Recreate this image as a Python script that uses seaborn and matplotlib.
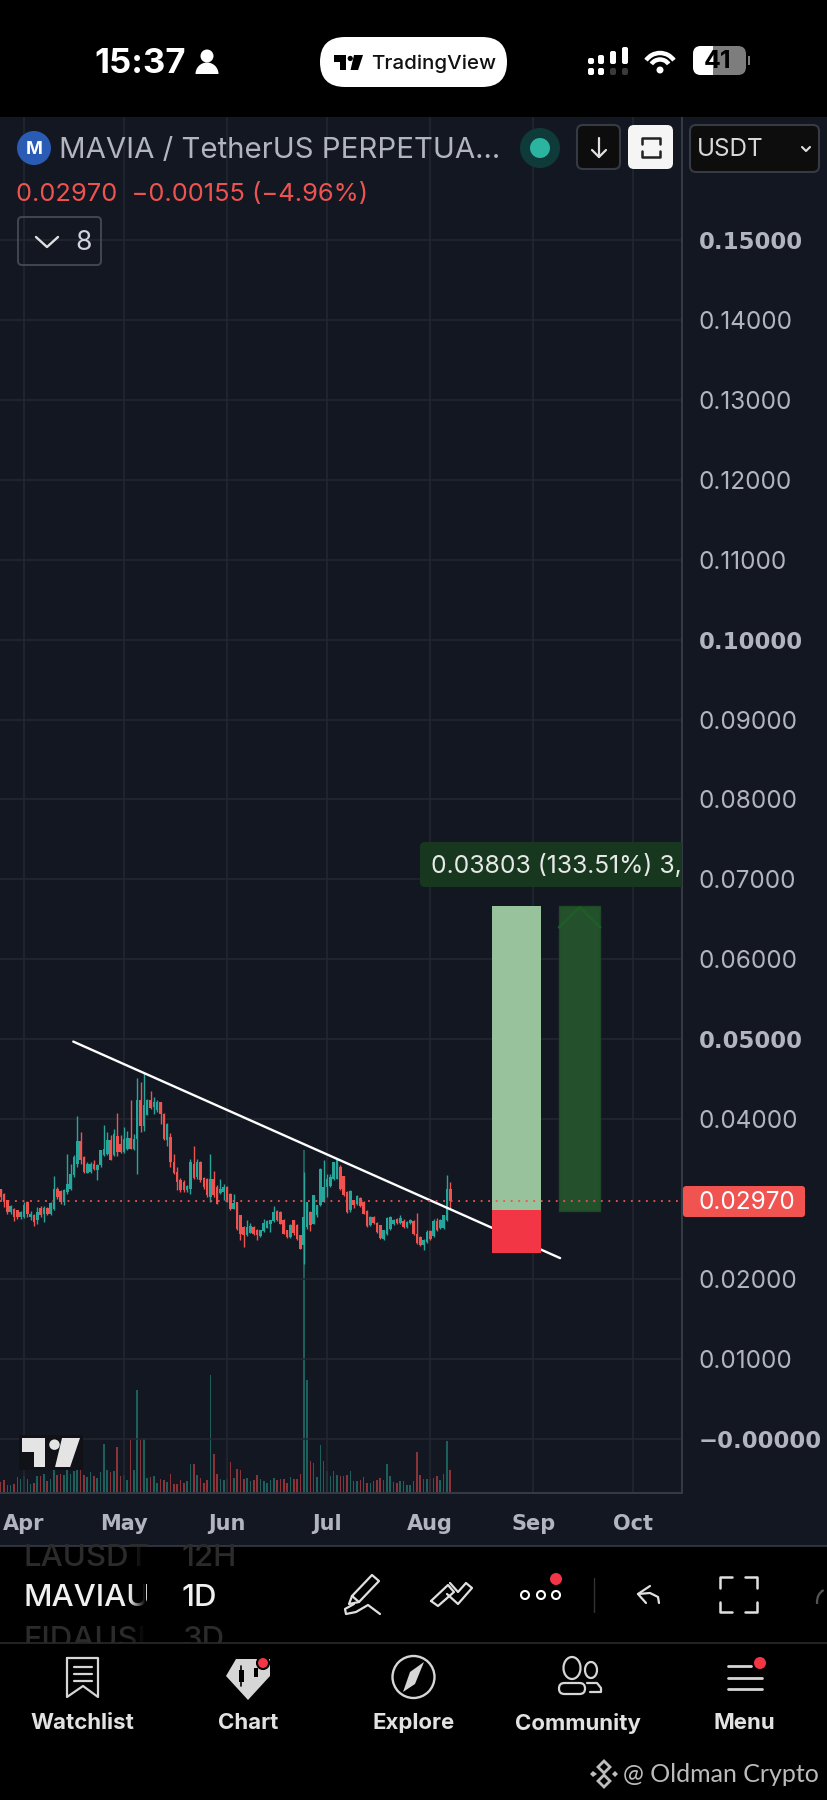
import numpy as np
import pandas as pd
import seaborn as sns
import matplotlib.pyplot as plt
from matplotlib.patches import FancyBboxPatch, Rectangle, Circle, Polygon, Arc, Wedge

# Candle values, thousandths of a USDT, one candle per day (day 0 = 1 Apr)
days = list(range(-7, 129))
candle_open = [31.3,30.65,29.85,28.4,28.8,28.6,27.75,27.75,29.6,27.75,
    27.95,27.35,28.9,28.15,28.9,28.15,28.8,31.3,31.0,29.6,
    30.9,31.3,32.95,34.4,37.25,35.25,33.25,33.4,34.4,33.65,
    34.2,35.45,35.65,37.35,35.45,37.85,36.9,35.9,36.3,37.65,
    36.3,37.55,42.4,39.1,40.45,42.4,41.5,41.1,42.1,40.65,
    37.35,37.75,34.6,33.4,32.35,32.1,31.1,31.3,34.4,32.75,
    34.6,32.6,32.55,30.25,32.55,31.5,30.75,30.9,31.5,30.65,
    28.8,29.6,28.05,26.5,25.45,25.8,26.5,26.15,25.35,26.0,
    26.4,26.85,27.25,28.5,28.4,27.35,26.1,25.25,27.35,26.7,
    25.45,24.2,26.5,28.4,26.9,27.95,29.2,29.6,31.5,31.6,
    32.55,32.55,34.0,32.85,30.9,28.6,29.85,29.35,30.15,29.6,
    28.5,26.7,27.75,27.0,26.7,25.05,25.6,26.3,26.85,27.55,
    27.0,27.25,26.5,27.0,27.25,25.6,25.25,24.2,24.6,26.0,
    25.35,27.25,26.4,26.4,27.4,31.25]
candle_close = [30.25,29.6,28.4,29.1,27.75,27.75,28.4,29.2,28.15,28.1,
    27.1,28.4,27.95,28.9,28.15,29.5,31.3,30.25,29.6,31.1,
    31.9,33.15,35.25,37.25,34.85,33.4,34.4,34.4,33.8,34.2,
    36.15,36.3,37.35,34.85,38.15,35.9,35.9,37.55,37.65,36.3,
    37.55,42.4,39.1,41.7,42.4,41.4,42.1,42.1,40.6,37.55,
    39.4,34.6,33.25,32.1,31.1,31.1,31.6,34.6,32.65,34.6,
    32.35,31.5,30.45,32.55,30.45,29.4,31.3,31.5,29.85,28.8,
    29.5,26.3,25.65,25.45,26.5,26.6,25.65,25.45,26.1,27.0,
    27.25,27.35,28.4,27.35,26.9,25.65,25.25,26.7,25.75,25.05,
    23.8,27.75,29.6,26.7,30.45,29.2,33.8,31.5,32.55,32.75,
    34.6,34.85,31.3,30.45,28.4,30.95,29.2,30.35,29.1,28.15,
    26.6,27.75,27.0,25.9,25.1,26.1,27.65,27.75,27.4,27.0,
    27.65,26.5,27.1,27.4,25.6,24.5,24.2,24.9,25.9,25.05,
    27.25,26.1,27.4,27.95,31.3,29.7]
candle_high = [31.3,30.75,29.85,29.2,28.9,28.65,28.5,29.6,29.7,28.5,
    28.15,29.0,29.1,29.1,29.0,29.6,32.9,31.5,31.1,31.3,
    35.65,34.35,35.45,40.35,38.4,35.35,34.65,34.6,34.85,34.4,
    36.15,39.2,38.4,38.0,38.8,40.75,37.95,39.0,38.45,42.35,
    38.15,45.15,44.6,45.75,42.55,43.5,42.75,42.35,42.2,40.75,
    39.5,38.3,35.65,34.0,32.65,32.4,31.7,35.05,36.6,34.95,
    34.7,32.75,32.6,35.65,33.5,31.7,32.55,31.9,31.6,30.75,
    30.65,29.6,28.05,26.6,27.4,27.0,26.6,26.3,26.15,27.5,
    27.35,27.4,29.1,28.6,28.45,27.55,26.15,26.9,27.35,26.85,
    25.45,33.4,29.6,28.45,30.45,29.2,33.9,34.85,33.1,33.1,
    34.6,35.05,34.2,32.9,30.95,31.1,29.9,30.45,30.25,29.7,
    28.6,27.85,27.85,27.1,26.8,26.15,27.75,27.9,27.5,27.65,
    27.95,27.5,27.2,27.55,27.35,28.3,25.35,25.05,26.1,26.1,
    27.55,27.65,27.55,28.05,33.05,32.1]
candle_low = [29.85,29.0,28.15,28.15,27.25,27.5,27.5,27.65,27.75,27.35,
    26.6,26.85,27.75,27.1,27.95,27.95,28.65,30.05,29.4,29.3,
    30.65,31.1,32.75,34.0,34.4,33.25,33.25,33.25,33.65,32.35,
    34.0,35.4,35.45,34.85,35.35,35.35,35.75,35.75,36.15,36.2,
    36.1,33.15,38.4,38.5,40.45,41.3,40.65,40.9,39.4,37.4,
    36.6,34.0,33.15,31.1,30.9,30.9,30.9,30.65,32.55,32.55,
    32.1,31.3,30.25,29.6,30.25,29.35,30.65,29.85,29.6,28.6,
    28.7,26.15,24.9,24.0,25.35,25.75,25.45,24.9,25.25,25.9,
    26.4,25.9,27.15,27.25,26.85,25.6,25.1,25.15,25.45,24.9,
    23.7,21.85,26.3,26.0,26.85,27.75,29.1,29.6,30.25,31.5,
    32.4,32.45,31.15,30.35,28.3,28.4,28.9,29.2,29.0,28.1,
    26.5,26.6,26.85,25.8,25.05,24.9,25.45,26.15,26.7,26.85,
    26.9,26.4,26.35,26.9,25.5,24.4,24.1,23.6,24.5,24.9,
    25.25,26.0,26.3,26.3,27.25,28.8]
volume = [33,38,25,23,28,47,41,50,41,28,31,50,51,56,35,41,68,55,57,53,
    68,57,66,118,78,54,47,64,50,45,62,148,68,62,65,138,50,53,38,158,
    70,308,160,161,45,47,50,29,43,39,33,57,27,27,39,29,37,86,87,54,
    45,31,38,355,116,56,41,40,41,92,45,73,68,43,44,37,39,53,42,35,
    29,38,44,39,42,42,31,47,41,41,56,1030,340,95,89,48,143,97,65,50,
    65,53,52,52,54,67,35,36,40,48,31,31,37,38,44,40,88,52,34,29,
    35,35,24,24,37,124,53,42,41,41,45,50,39,56,155,68]

price_ticks = [0.15, 0.14, 0.13, 0.12, 0.11, 0.10, 0.09, 0.08, 0.07, 0.06, 0.05, 0.04, 0.02, 0.01, 0.0]
price_labels = ['0.15000', '0.14000', '0.13000', '0.12000', '0.11000', '0.10000', '0.09000', '0.08000',
                '0.07000', '0.06000', '0.05000', '0.04000', '0.02000', '0.01000', '\u22120.00000']
bold_labels = ['0.15000', '0.10000', '0.05000', '\u22120.00000']
month_days = [0, 30, 61, 91, 122, 153, 183]
month_labels = ['Apr', 'May', 'Jun', 'Jul', 'Aug', 'Sep', 'Oct']

last_price = 0.0297
trend_days = [14.8, 161.0]
trend_prices = [0.0497, 0.0226]
# long position tool
pos_days = [140.5, 155.2]
pos_target, pos_entry, pos_stop = 0.0667, 0.02868, 0.02322
proj_days = [160.7, 173.0]
proj_prices = [0.0285, 0.0667]

BG = '#131722'
GRID = '#23272f'
AXIS = '#363a45'
LABEL = '#b2b5be'
UP = '#26a69a'
DOWN = '#ef5350'

sns.set_theme(style='dark', rc={'axes.facecolor': BG, 'figure.facecolor': BG})
plt.rcParams['font.family'] = ['Inter', 'DejaVu Sans']

W, H = 828, 1800
fig = plt.figure(figsize=(W / 100, H / 100), dpi=100)
pane = [0, (H - 1493) / H, 682 / W, 1376 / H]
xlim = (-7.2, 197.6)

# volume sits on its own scale behind the candles
vol_ax = fig.add_axes(pane, zorder=1)
df = pd.DataFrame({'day': days, 'volume': volume,
                   'side': np.where(np.array(candle_close) >= np.array(candle_open), 'up', 'down')})
sns.barplot(data=df, x='day', y='volume', hue='side', native_scale=True, dodge=False, width=0.48,
            palette={'up': '#1d5f5c', 'down': '#8a3339'}, saturation=1, linewidth=0,
            errorbar=None, legend=False, ax=vol_ax)
vol_ax.set_xlim(xlim)
vol_ax.set_ylim(0, 4128)
vol_ax.axis('off')

ax = fig.add_axes(pane, zorder=2)
ax.patch.set_visible(False)
ax.set_xlim(xlim)
ax.set_ylim(-0.0068, 0.16542)
ax.grid(True, color=GRID, linewidth=1.1)
ax.set_axisbelow(True)

o, c = np.array(candle_open) / 1000, np.array(candle_close) / 1000
hi, lo = np.array(candle_high) / 1000, np.array(candle_low) / 1000
colors = np.where(c >= o, UP, DOWN)
ax.vlines(days, lo, hi, colors=colors, linewidth=1.0, zorder=3)
ax.bar(days, np.abs(c - o), bottom=np.minimum(o, c), width=0.78, color=colors, linewidth=0, zorder=3)

sns.lineplot(x=trend_days, y=trend_prices, color='white', linewidth=1.7, ax=ax, zorder=4)

# position tool
ax.add_patch(Rectangle((pos_days[0], pos_entry), pos_days[1] - pos_days[0], pos_target - pos_entry,
                       fc='#97c29b', ec='none', zorder=5))
ax.add_patch(Rectangle((pos_days[0], pos_stop), pos_days[1] - pos_days[0], pos_entry - pos_stop,
                       fc='#f23645', ec='none', zorder=5))
ax.add_patch(Rectangle((proj_days[0], proj_prices[0]), proj_days[1] - proj_days[0], proj_prices[1] - proj_prices[0],
                       fc='#25502c', ec='#1c4a24', lw=1, zorder=5))
mid = sum(proj_days) / 2
sns.lineplot(x=[mid, mid], y=proj_prices, color='#1f5c28', linewidth=2.2, ax=ax, zorder=6)
ax.plot([proj_days[0], mid, proj_days[1]], [proj_prices[1] - 0.0027, proj_prices[1] - 0.0002, proj_prices[1] - 0.0027],
        color='#1f5c28', linewidth=2.0, zorder=6, solid_joinstyle='bevel')

sns.lineplot(x=list(xlim), y=[last_price, last_price], color=DOWN, linewidth=1.3,
             linestyle=(0, (1, 3.16)), ax=ax, zorder=7)

ax.set_xticks(month_days, month_labels, fontweight='bold', fontsize=15, color=LABEL, family='DejaVu Sans')
ax.yaxis.tick_right()
ax.set_yticks(price_ticks, price_labels, fontsize=17.5, color=LABEL, ha='left')
for t in ax.get_yticklabels():
    if t.get_text() in bold_labels:
        t.set_fontweight('bold')
        t.set_family('DejaVu Sans')
        t.set_fontsize(16.4)
ax.tick_params(axis='x', length=0, pad=15)
ax.tick_params(axis='y', length=0, pad=12)
ax.set_xlabel('')
ax.set_ylabel('')
for side in ('left', 'top'):
    ax.spines[side].set_visible(False)
for side in ('right', 'bottom'):
    ax.spines[side].set_color(AXIS)
    ax.spines[side].set_linewidth(1.4)

# app chrome, in screen pixels
ui = fig.add_axes([0, 0, 1, 1], zorder=5)
ui.set_xlim(0, W)
ui.set_ylim(H, 0)
ui.axis('off')


def rrect(x0, y0, x1, y1, r, fc='none', ec='none', lw=1.0, z=2):
    p = FancyBboxPatch((x0 + r, y0 + r), x1 - x0 - 2 * r, y1 - y0 - 2 * r, boxstyle=f'round,pad={r}',
                       fc=fc, ec=ec, lw=lw, zorder=z)
    ui.add_patch(p)
    return p


def stroke(xs, ys, color='#e0e0e0', lw=1.6, z=3):
    ui.plot(xs, ys, color=color, lw=lw, zorder=z, solid_capstyle='round', solid_joinstyle='round')


def tv_logo(x, y, w, h, color, z=4):
    ui.add_patch(Polygon([(x, y), (x + .40 * w, y), (x + .40 * w, y + h), (x + .20 * w, y + h),
                          (x + .20 * w, y + .47 * h), (x, y + .47 * h)], fc=color, ec='none', zorder=z))
    ui.add_patch(Circle((x + .56 * w, y + .23 * h), .09 * w, fc=color, ec='none', zorder=z))
    ui.add_patch(Polygon([(x + .69 * w, y), (x + w, y), (x + .83 * w, y + h), (x + .57 * w, y + h)],
                         fc=color, ec='none', zorder=z))


# top status bar
ui.add_patch(Rectangle((0, 0), W, 117, fc='black', ec='none', zorder=1))
ui.text(94, 64, '15:37', color='white', fontsize=25, fontweight='bold', va='center')
ui.add_patch(Circle((207, 56), 6.5, fc='white', ec='none', zorder=3))
ui.add_patch(Wedge((207, 74), 11.5, 180, 360, fc='white', ec='none', zorder=3))
rrect(320, 37, 507, 87, 25, fc='white')
tv_logo(334, 55, 29, 15, 'black')
ui.text(371, 64, 'TradingView', color='#111111', fontsize=14.8, va='center', fontweight='medium')
for x, tops, low_color in [(591, 58, 'white'), (601, 55, 'white'), (613, 51, '#3a3a3a'), (625, 47, '#3a3a3a')]:
    rrect(x - 3, tops, x + 3, 64, 2, fc='white')
    rrect(x - 3, 68, x + 3, 75, 2, fc=low_color if x > 610 else 'white')
ui.add_patch(Arc((660, 70), 34, 34, theta1=215, theta2=325, ec='white', lw=3.2, zorder=3))
ui.add_patch(Arc((660, 70), 21, 21, theta1=215, theta2=325, ec='white', lw=3.2, zorder=3))
ui.add_patch(Circle((660, 70), 3.5, fc='white', ec='none', zorder=3))
rrect(693, 46, 746, 75, 8, fc='#7d7d7d')
b = rrect(693, 46, 746, 75, 8, fc='white', z=3)
b.set_clip_path(Rectangle((693, 40), 20, 40, transform=ui.transData))
ui.add_patch(Rectangle((748, 56), 2, 9, fc='#7d7d7d', ec='none', zorder=3))
ui.text(718, 62, '41', color='black', fontsize=18, fontweight='bold', ha='center', va='center', zorder=4)

# symbol header
ui.add_patch(Circle((34, 148), 17, fc='#2a5bb5', ec='none', zorder=3))
ui.text(34, 149, 'M', color='white', fontsize=13, fontweight='bold', ha='center', va='center', zorder=4)
ui.text(59, 150.5, 'MAVIA / TetherUS PERPETUA...', color=LABEL, fontsize=21.2, va='center')
ui.add_patch(Circle((540, 148), 20, fc='#0f3a3a', ec='none', zorder=3))
ui.add_patch(Circle((540, 148), 10, fc='#2bb5a0', ec='none', zorder=4))
rrect(577, 125, 620, 169, 6, fc='#0d0d0d', ec=AXIS, lw=1.5)
stroke([599, 599], [138, 157])
stroke([592, 599, 606], [150, 157, 150])
rrect(628, 125, 673, 169, 6, fc='#f5f5f5')
stroke([642, 642, 660, 660], [144, 138, 138, 144], color='#222222', lw=1.8)
stroke([642, 642, 660, 660], [151, 157, 157, 151], color='#222222', lw=1.8)
rrect(690, 125, 819, 172, 6, fc='#0d0d0d', ec=AXIS, lw=1.5)
ui.text(697, 150, 'USDT', color='#d8d8d8', fontsize=17.5, va='center', zorder=4)
stroke([802, 806, 810], [147, 151, 147], lw=1.5)
ui.text(16, 194, '0.02970  \u22120.00155 (\u22124.96%)', color=DOWN, fontsize=18.4, va='center')
rrect(18, 217, 101, 265, 4, ec='#434651', lw=1.4)
stroke([36, 47, 58], [237, 247, 237], lw=1.7)
ui.text(84, 243, '8', color='#d1d4dc', fontsize=19, ha='center', va='center')

# long tool label and last price tag
lab = rrect(420, 842, 700, 887, 5, fc='#17381f')
clip_box = Rectangle((400, 830), 282, 70, transform=ui.transData)
lab.set_clip_path(clip_box)
lab_text = ui.text(431, 866, '0.03803 (133.51%) 3,', color='#e8e8e8', fontsize=17.8, va='center', zorder=4)
lab_text.set_clip_path(clip_box)
rrect(683, 1186, 805, 1217, 3, fc='#f05350')
ui.text(699, 1202.5, '0.02970', color='white', fontsize=17.5, va='center', zorder=4)

# watermark logo
rrect(19, 1435, 83, 1470, 2, fc='#111218', z=2)
tv_logo(22, 1438, 58, 29, '#e4e4e4')

# bottom toolbar
ui.add_patch(Rectangle((0, 1546), W, 254, fc='black', ec='none', zorder=1))
ui.plot([0, W], [1545.5, 1545.5], color=AXIS, lw=1.2, zorder=2)
for y, sym, tf, col in [(1558, 'LAUSDT', '12H', '#2b2b2b'), (1598, 'MAVIAU', '1D', '#f0f0f0'),
                        (1640, 'FIDAUSI', '3D', '#2b2b2b')]:
    t = ui.text(24, y, sym, color=col, fontsize=22.5, fontweight='medium', va='center', zorder=2)
    t.set_clip_path(Rectangle((0, 1547), 146, 96, transform=ui.transData))
    t2 = ui.text(182, y, tf, color=col, fontsize=22.5, fontweight='medium', va='center', zorder=2)
    t2.set_clip_path(Rectangle((150, 1547), 100, 96, transform=ui.transData))
# symbol names fade out at the right of their column
for i in range(16):
    ui.add_patch(Rectangle((130 + i, 1547), 1.2, 96, fc='black', ec='none', alpha=(i + 1) / 16, zorder=2.2))
ui.add_patch(Rectangle((0, 1643), W, 157, fc='black', ec='none', zorder=2.5))
ui.plot([0, W], [1643, 1643], color='#2a2a2a', lw=1.2, zorder=3)

# drawing tools
stroke([352, 372, 379, 359, 352], [1596, 1575, 1581, 1602, 1596], lw=1.6)
stroke([352, 349, 359], [1596, 1604, 1602], lw=1.6)
stroke([354, 345, 346, 356, 368, 380], [1604, 1609, 1614, 1612, 1605, 1614], lw=1.6)
stroke([431, 448, 454, 438, 431], [1601, 1585, 1592, 1606, 1601], lw=1.6)
stroke([450, 458, 466, 472, 458, 447], [1583, 1592, 1583, 1588, 1604, 1594], lw=1.6)
for x in (525, 541, 556):
    ui.add_patch(Circle((x, 1595), 4, fc='none', ec='white', lw=1.5, zorder=3))
ui.add_patch(Circle((556, 1579), 6, fc='#f23645', ec='none', zorder=3))
ui.plot([594, 594], [1578, 1612], color='#333333', lw=1, zorder=3)
stroke([650, 638, 646], [1586, 1594, 1603], lw=1.6)
stroke([638, 650, 658, 659], [1594, 1593, 1597, 1603], lw=1.6)
for x0, x1 in [(720, 732), (757, 745)]:
    stroke([x1, x0, x0], [1577, 1577, 1588], lw=1.8)
    stroke([x0, x0, x1], [1602, 1612, 1612], lw=1.8)
ui.add_patch(Arc((828, 1602), 22, 26, theta1=170, theta2=250, ec='#555555', lw=1.6, zorder=3))

# nav bar
nav_x = [82, 248, 413.5, 578, 744]
nav_names = ['Watchlist', 'Chart', 'Explore', 'Community', 'Menu']
for x, name in zip(nav_x, nav_names):
    ui.text(x, 1723, name, color='#e2e2e2', fontsize=16, fontweight='bold', ha='center', va='center', zorder=3)
NAV = '#d6d6d6'
stroke([67, 98, 98, 83, 67, 67], [1658, 1658, 1697, 1686, 1697, 1658], color=NAV)
for y in (1667, 1674, 1681):
    stroke([74, 92], [y, y], color=NAV, lw=1.6)
ui.add_patch(Polygon([(236, 1659), (270, 1659), (270, 1676), (248, 1700), (226, 1676)], fc=NAV, ec='none', zorder=3))
ui.add_patch(Rectangle((239, 1670), 5, 12, fc='black', ec='none', zorder=4))
ui.plot([241.5, 241.5], [1666, 1686], color='black', lw=1.2, zorder=4)
ui.add_patch(Rectangle((254, 1668), 4, 9, fc='black', ec='none', zorder=4))
ui.add_patch(Circle((263, 1663), 6, fc='#f23645', ec='black', lw=1.5, zorder=5))
ui.add_patch(Circle((413.5, 1677), 21, fc='none', ec=NAV, lw=1.7, zorder=3))
ui.add_patch(Polygon([(424, 1662), (415, 1684), (403, 1692), (410, 1672)], fc=NAV, ec='none', zorder=3))
for cx, cy, rx, ry in [(572, 1668, 8.5, 11), (591, 1670, 6, 8)]:
    ui.add_patch(Arc((cx, cy), rx * 2, ry * 2, ec=NAV, lw=1.6, zorder=3))
rrect(559, 1683, 585, 1694, 5.4, ec=NAV, lw=1.6, z=3)
stroke([587, 597, 601, 601, 590], [1683, 1683, 1688, 1692, 1692], color=NAV)
for y, x1 in [(1666, 751), (1678, 762), (1689, 762)]:
    stroke([728, x1], [y, y], color=NAV, lw=2.0)
ui.add_patch(Circle((760, 1663), 6, fc='#f23645', ec='none', zorder=5))

# credit
ui.add_patch(Polygon([(604, 1761), (610, 1767), (604, 1773), (598, 1767)], fc='none', ec='#bdbdbd', lw=2, zorder=3))
ui.add_patch(Polygon([(604, 1775), (610, 1781), (604, 1787), (598, 1781)], fc='none', ec='#bdbdbd', lw=2, zorder=3))
ui.add_patch(Polygon([(593, 1771), (597, 1774), (593, 1777), (590, 1774)], fc='#bdbdbd', ec='none', zorder=3))
ui.add_patch(Polygon([(615, 1771), (618, 1774), (615, 1777), (612, 1774)], fc='#bdbdbd', ec='none', zorder=3))
ui.text(623, 1774, '@ Oldman Crypto', color='#bcbcbc', family=['Lato', 'DejaVu Sans'],
        fontsize=18, va='center', zorder=3)

fig.savefig('out.png', dpi=100, facecolor=BG)
